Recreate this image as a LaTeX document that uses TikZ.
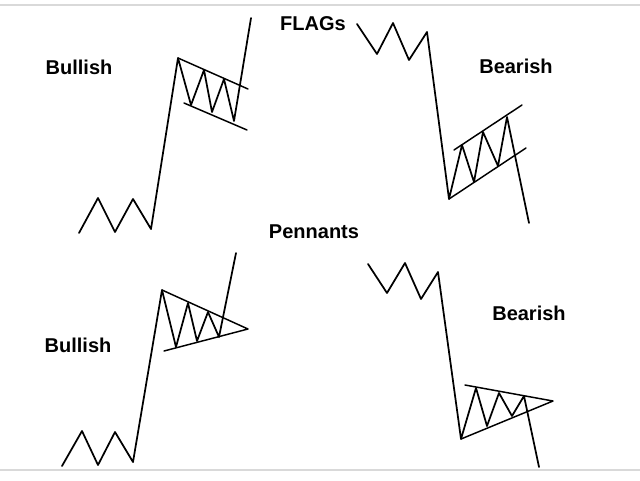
\documentclass[tikz,border=0pt]{standalone}
\usepackage{fontspec}
\setmainfont{Liberation Sans}
\begin{document}
\begin{tikzpicture}[line cap=round,line join=round,x=0.75pt,y=-0.75pt,
  price/.style={line width=1.3pt},
  trend/.style={line width=1.1pt},
  title/.style={font=\fontsize{15}{18}\selectfont\bfseries}]
		\useasboundingbox (0,0) rectangle (640,480);
		\draw [black!15,line width=0.8pt] (0,5)-- (640,5);
		\draw [black!15,line width=0.8pt] (0,470)-- (640,470);
		% flags
		\draw [price] (79,233)-- (98,198)-- (115,232)-- (133,199)-- (151,229)-- (178,58)-- (191,105)-- (204,70)-- (212,112)-- (224,79)-- (234,121)-- (251,18);
		\draw [trend] (178,58)-- (248,89);
		\draw [trend] (184,103)-- (247,130);
		\draw [price] (357,24)-- (377,54)-- (393,23)-- (409,60)-- (427,32)-- (449,199)-- (462,145)-- (474,182)-- (483,132)-- (498,166)-- (507,117)-- (529,223);
		\draw [trend] (454,150)-- (522,105);
		\draw [trend] (449,199)-- (526,148);
		% pennants
		\draw [price] (62,466)-- (82,431)-- (98,465)-- (115,432)-- (133,462)-- (162,290)-- (176,347)-- (188,303)-- (197,341)-- (208,312)-- (219,337)-- (236,253);
		\draw [trend] (162,290)-- (248,329)-- (164,351);
		\draw [price] (368,264)-- (387,293)-- (405,263)-- (421,299)-- (438,272)-- (461,439)-- (476,388)-- (487,426)-- (499,393)-- (512,416)-- (524,396)-- (539,467);
		\draw [trend] (465,385)-- (553,401)-- (461,439);
		\node [title] (flags) at (313,24) {FLAGs};
		\node [title] (bullA) at (79,67) {Bullish};
		\node [title] (bearA) at (516,66) {Bearish};
		\node [title] (pennants) at (314,232) {Pennants};
		\node [title] (bullB) at (78,345) {Bullish};
		\node [title] (bearB) at (529,313) {Bearish};
\end{tikzpicture}
\end{document}
